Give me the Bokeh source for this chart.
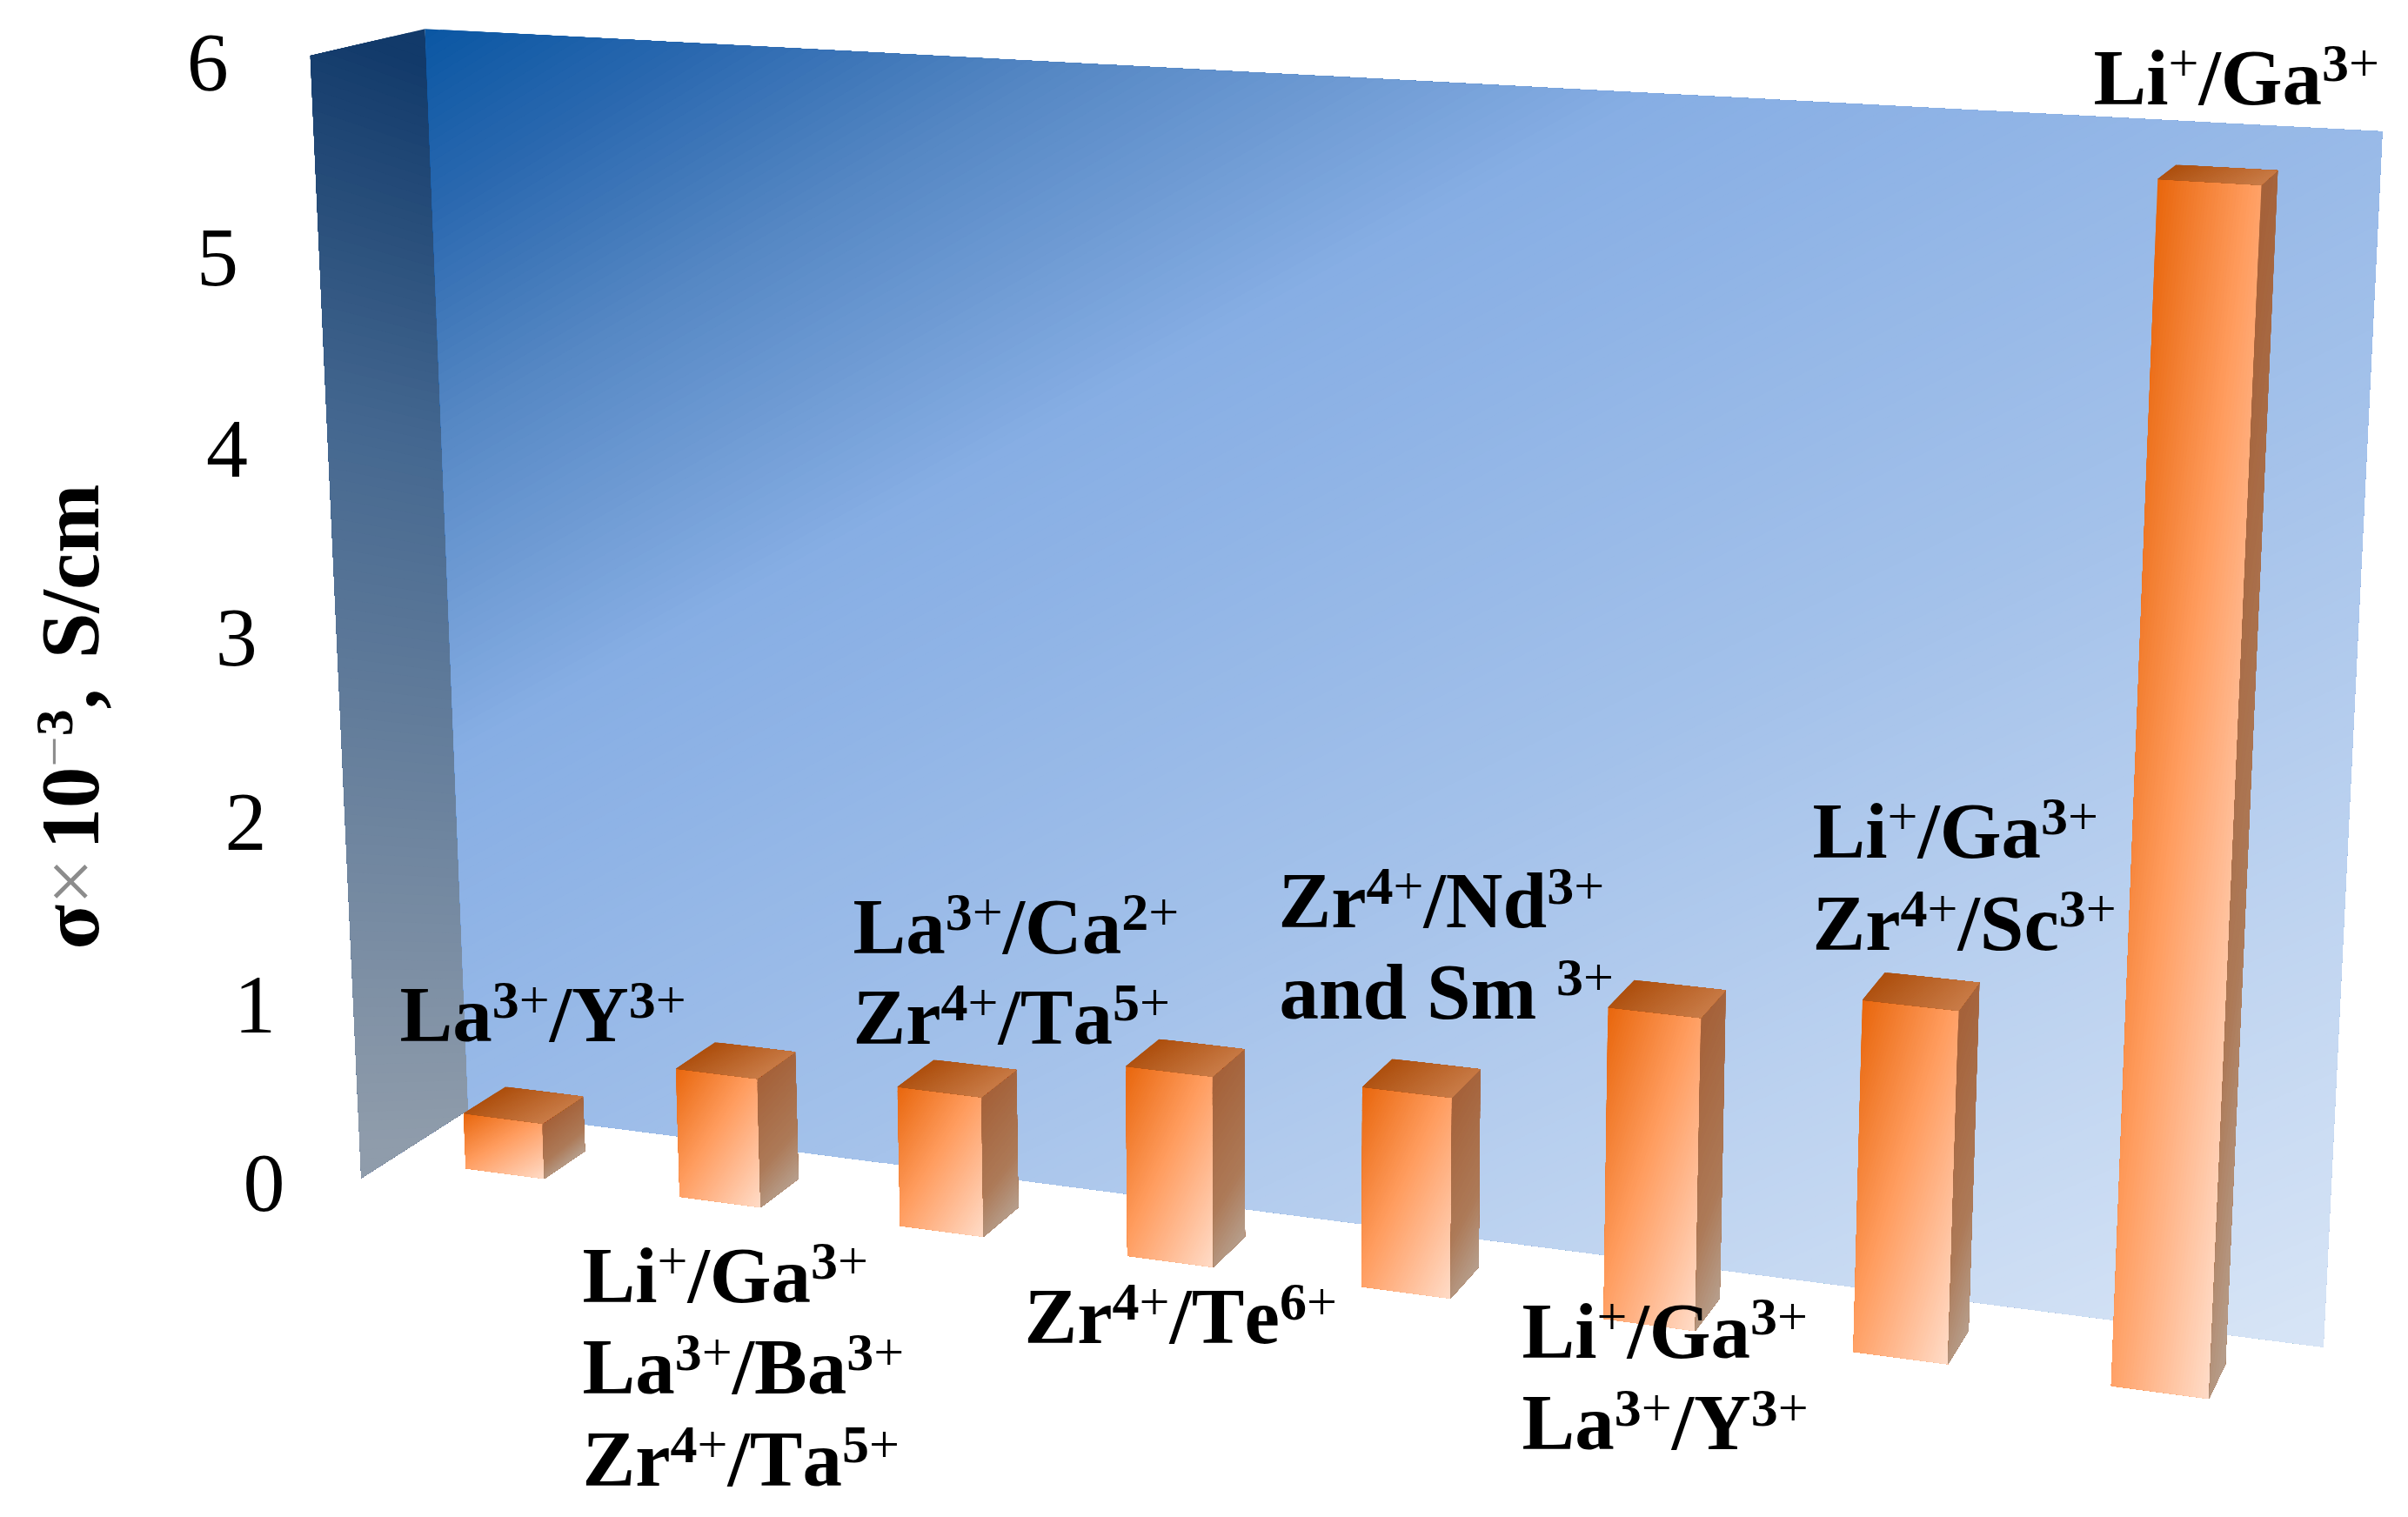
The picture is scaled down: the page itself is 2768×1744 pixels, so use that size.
import re
import numpy as np
from bokeh.plotting import figure
from bokeh.core.properties import value
from bokeh.embed import file_html
from bokeh.resources import INLINE

# ---- chart data ----
bar_values = [0.31, 0.71, 0.76, 1.02, 1.06, 1.62, 1.80, 5.85]
y_ticks = [0, 1, 2, 3, 4, 5, 6]
y_title = ["σ", "×", "10", "^−", "^3", ",", "S/cm"]
labels = [
    ("La^3+/Y^3+", 459, 1199),
    ("La^3+/Ca^2+", 980, 1098),
    ("Zr^4+/Ta^5+", 980, 1202),
    ("Zr^4+/Nd^3+", 1469, 1068),
    ("and Sm ^3+", 1470, 1173),
    ("Li^+/Ga^3+", 2083, 988),
    ("Zr^4+/Sc^3+", 2083, 1094),
    ("Li^+/Ga^3+", 669, 1499),
    ("La^3+/Ba^3+", 669, 1604),
    ("Zr^4+/Ta^5+", 669, 1710),
    ("Zr^4+/Te^6+", 1177, 1546),
    ("Li^+/Ga^3+", 1749, 1563),
    ("La^3+/Y^3+", 1749, 1668),
    ("Li^+/Ga^3+", 2406, 122),
]

# ---- scene: homogeneous camera for (x in 0..1, value, depth 0..1) ----
CX = np.array([1825.0, 94.9, -0.115])
CV = np.array([-12.3, -207.3, -0.00815])
CZ = np.array([-139.0, 26.8, -0.0383])
C0 = np.array([538.0, 1275.0, 1.0])
BAR_X0, BAR_PITCH, BAR_W = 0.067, 0.1242, 0.046
Z_BACK, Z_FRONT = 0.33, 0.725
VMAX = 6.0


def proj(x, v, z):
    h = C0 + CX * x + CV * v + CZ * z
    return h[0] / h[2], h[1] / h[2]


def hexrgb(s):
    return np.array([int(s[i:i + 2], 16) for i in (1, 3, 5)], float)


def ramp(stops, t):
    t = min(max(t, 0.0), 1.0)
    ts = [a for a, _ in stops]
    rgb = [np.interp(t, ts, [hexrgb(c)[k] for _, c in stops]) for k in range(3)]
    return "#%02x%02x%02x" % tuple(int(round(c)) for c in rgb)


WALL = [(0, "#0a57a3"), (0.08, "#2a68af"), (0.18, "#5688c4"), (0.33, "#87aee4"), (0.6, "#a3c1ea"), (1, "#d8e5f6")]
SIDE = [(0, "#123a6a"), (0.35, "#456890"), (1, "#8f9cab")]
FRONT = [(0, "#e8660c"), (0.45, "#ff9c5e"), (0.7, "#ffb88e"), (1, "#ffdcc8")]
RIGHT = [(0, "#a5623a"), (0.6, "#ad7a58"), (1, "#b8a494")]
TOP = [(0, "#ad4e0c"), (1, "#c97c48")]

xs, ys, cols = [], [], []


def clip(poly, a, b, c, level):
    """Keep the part of poly where a*u + b*s + c >= level."""
    out = []
    for k in range(len(poly)):
        p1, p2 = poly[k], poly[(k + 1) % len(poly)]
        d1 = a * p1[0] + b * p1[1] + c - level
        d2 = a * p2[0] + b * p2[1] + c - level
        if d1 >= 0:
            out.append(p1)
        if (d1 >= 0) != (d2 >= 0):
            f = d1 / (d1 - d2)
            out.append((p1[0] + f * (p2[0] - p1[0]), p1[1] + f * (p2[1] - p1[1])))
    return out


def face(p00, du, dv, grad, stops, levels):
    """Gradient face: painter-stacked polygons, each one the part of the face past a level."""
    p00, du, dv = map(np.array, (p00, du, dv))
    a, b, c = grad
    lo = min(a * u + b * s + c for u in (0, 1) for s in (0, 1))
    hi = max(a * u + b * s + c for u in (0, 1) for s in (0, 1))
    square = [(0, 0), (1, 0), (1, 1), (0, 1)]
    for n in range(levels):
        level = lo + (hi - lo) * n / levels
        poly = square if n == 0 else clip(square, a, b, c, level)
        if len(poly) < 3:
            continue
        q = [proj(*(p00 + du * u + dv * s)) for u, s in poly]
        xs.append([e[0] for e in q])
        ys.append([e[1] for e in q])
        cols.append(ramp(stops, lo + (hi - lo) * (n + 0.5) / levels))


# side wall and back wall, s=0 at the top
face((0, VMAX, 1), (0, 0, -1), (0, -VMAX, 0), (-0.06, 1.0, 0.03), SIDE, 120)
face((0, VMAX, 0), (1, 0, 0), (0, -VMAX, 0), (0.5, 0.5, 0.0), WALL, 220)

# bars
for i, v in enumerate(bar_values):
    xl = BAR_X0 + BAR_PITCH * i - BAR_W / 2
    xr = xl + BAR_W
    face((xl, v, Z_FRONT), (BAR_W, 0, 0), (0, -v, 0), (0.5, 0.5, 0.0), FRONT, 70)
    face((xr, v, Z_FRONT), (0, 0, Z_BACK - Z_FRONT), (0, -v, 0), (0.1, 0.9, -0.05), RIGHT, 40)
    face((xl, v, Z_BACK), (BAR_W, 0, 0), (0, 0, Z_FRONT - Z_BACK), (0.9, 0.1, 0.0), TOP, 40)

p = figure(width=2768, height=1744, x_range=(0, 2768), y_range=(1744, 0),
           output_backend="svg", toolbar_location=None, min_border=0,
           x_axis_type=None, y_axis_type=None, outline_line_color=None)
p.grid.visible = False
p.background_fill_color = "white"
p.patches(xs, ys, fill_color=cols, line_color=None)

SERIF = value("Liberation Serif")
BASE = 91
SUP = 62
TITLE = 95
K = 0.36  # baseline correction of the page's text placement, per font pixel
W = {"L": .667, "i": .278, "a": .5, "Z": .667, "r": .444, "G": .778, "Y": .722, "C": .722,
     "B": .667, "T": .667, "N": .722, "d": .556, "S": .556, "m": .833, "n": .556, "e": .444,
     "/": .278, " ": .25, "c": .444, "+": .564, ",": .61, "σ": .54, "×": .67, "−": .57}


def width(t, size):
    return sum(W.get(c, .5) for c in t) * size


def put(t, x, y, size, style="bold", color="black", rotated=False, align="left"):
    off = K * size
    p.text([x], [y], text=[t], text_font=SERIF, text_font_size=f"{size}px",
           text_font_style=style, text_color=color, text_align=align,
           text_baseline="alphabetic", angle=np.pi / 2 if rotated else 0.0,
           x_offset=-off if rotated else 0, y_offset=0 if rotated else -off)


# point labels
for txt, x, y in labels:
    for k, run in enumerate(re.split(r"\^([0-9]*\+)", txt)):
        if not run:
            continue
        if k % 2:
            if run[:-1]:  # the digit is heavy, the plus sign is thin
                put(run[:-1], x, y - 27, SUP, "bold")
                x += width(run[:-1], SUP)
            put("+", x, y - 27, SUP, "normal")
            x += width("+", SUP)
        else:
            for piece in re.split(r"(?<=T)", run):  # T and a/e stand unkerned in the original
                if piece:
                    put(piece, x, y, BASE)
                    x += width(piece, BASE)

# value axis, following the front edge of the side wall
for t in y_ticks:
    px, py = proj(0, t, 1)
    put(str(t), px - 112 - t, py + 41 + 0.3 * t, 96, "normal", align="center")

# rotated title
yy = 1091
for run in y_title:
    sup = run.startswith("^")
    txt = run.lstrip("^")
    size = SUP if sup else TITLE
    grey = txt in ("×", "−")
    put(txt, 85 if sup else 115, yy, size, "normal" if grey else "bold",
        "#8c8c8c" if grey else "black", rotated=True)
    yy -= width(txt, size)

open("out.html", "w").write(file_html(p, INLINE))
